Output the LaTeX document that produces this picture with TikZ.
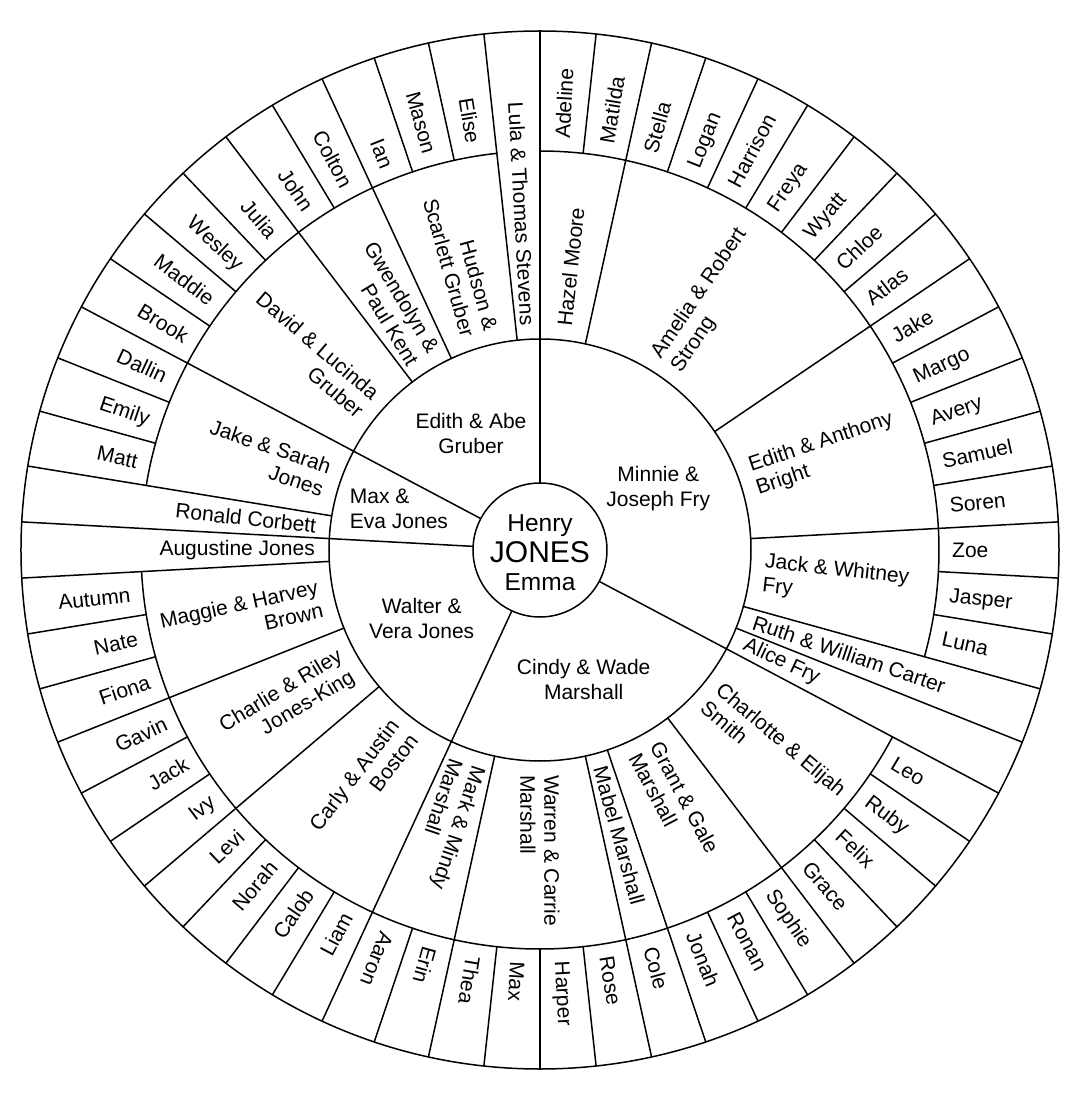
\documentclass[tikz,border=0pt]{standalone}
\usepackage{fontspec}
\setmainfont{Liberation Sans}
\newcommand\slotang{6.2068966}
\newcommand\RingThree[2]{%
  \pgfmathsetmacro\myb{90+(#1+0.5)*\slotang}%
  \pgfmathsetmacro\myr{\myb-180}%
  \ifnum#1<25\relax
    \node[nm, anchor=east, rotate=\myr] (c#1) at (\myb:412pt) {#2};%
  \else
    \node[nm, anchor=west, rotate=\myb] (c#1) at (\myb:412pt) {#2};%
  \fi}
\newcommand\RingTwo[4]{%
  \pgfmathsetmacro\myb{90+(#2+#3+1)/2*\slotang}%
  \pgfmathsetmacro\myr{\myb-180}%
  \ifnum#2<25\relax
    \node[two, anchor=east, align=right, rotate=\myr] (#1) at (\myb:225pt) {#4};%
  \else
    \node[two, anchor=west, align=left, rotate=\myb] (#1) at (\myb:225pt) {#4};%
  \fi}
\begin{document}
\begin{tikzpicture}[x=1pt,y=1pt,
  ln/.style={line width=1.5pt, line cap=round, line join=round},
  nm/.style={font=\fontsize{21}{24}\selectfont, inner sep=0pt, text height=15pt, text depth=0pt},
  two/.style={font=\fontsize{21}{24}\selectfont, inner sep=0pt},
  one/.style={font=\fontsize{21}{25}\selectfont, inner sep=0pt, align=center}]
\useasboundingbox (-540,-548) rectangle (540,550);
\fill[white] (-540,-548) rectangle (540,550);
\coordinate (P) at (0,0);
% rings
\draw[ln] (P) circle[radius=519pt];
\draw[ln] (P) circle[radius=211pt];
\draw[ln] ({90+1*\slotang}:399pt) arc[start angle={90+1*\slotang}, end angle={90+13*\slotang}, radius=399pt];
\draw[ln] ({90+15*\slotang}:399pt) arc[start angle={90+15*\slotang}, end angle={90+39*\slotang}, radius=399pt];
\draw[ln] ({90+41*\slotang}:399pt) arc[start angle={90+41*\slotang}, end angle={90+58*\slotang}, radius=399pt];
% radial lines
\foreach \k in {0,10,14,25,39}
  \draw[ln] ({90+\k*\slotang}:67pt) -- ({90+\k*\slotang}:519pt);
\foreach \k in {1,4,6,13,15,18,21,27,31,32,35,40,41,44,49,56}
  \draw[ln] ({90+\k*\slotang}:211pt) -- ({90+\k*\slotang}:519pt);
\foreach \k in {2,3,5,7,8,9,11,12,16,17,19,20,22,23,24,26,28,29,30,33,34,36,37,38,42,43,45,46,47,48,50,51,52,53,54,55,57}
  \draw[ln] ({90+\k*\slotang}:399pt) -- ({90+\k*\slotang}:519pt);
\draw[ln, fill=white] (P) circle[radius=67pt];
% centre
\node[font=\fontsize{24.5}{28}\selectfont, anchor=base, inner sep=0pt] (henry) at (0,19) {Henry};
\node[font=\fontsize{30}{34}\selectfont, anchor=base, inner sep=0pt] (jones) at (0,-12.7) {JONES};
\node[font=\fontsize{24.5}{28}\selectfont, anchor=base, inner sep=0pt] (emma) at (0,-40.7) {Emma};
% ring 1
\node[one] (edith) at (-69,116.7) {Edith \& Abe\\Gruber};
\node[one] (minnie) at (118.3,61.7) {Minnie \&\\Joseph Fry};
\node[one, align=left] (max) at (-141,41) {Max \&\\Eva Jones};
\node[one] (walter) at (-118.3,-68) {Walter \&\\Vera Jones};
\node[one] (cindy) at (43.7,-129) {Cindy \& Wade\\Marshall};
% ring 2
\RingTwo{lula}{0}{0}{Lula \& Thomas Stevens}
\RingTwo{hudson}{1}{3}{Hudson \&\\Scarlett Gruber}
\RingTwo{gwen}{4}{5}{Gwendolyn \&\\Paul Kent}
\RingTwo{david}{6}{9}{David \& Lucinda\\Gruber}
\RingTwo{jakes}{10}{12}{Jake \& Sarah\\Jones}
\RingTwo{ronald}{13}{13}{Ronald Corbett}
\RingTwo{augustine}{14}{14}{Augustine Jones}
\RingTwo{maggie}{15}{17}{Maggie \& Harvey\\Brown}
\RingTwo{charlie}{18}{20}{Charlie \& Riley\\Jones-King}
\RingTwo{carly}{21}{24}{Carly \& Austin\\Boston}
\RingTwo{mark}{25}{26}{Mark \& Mindy\\Marshall}
\RingTwo{warren}{27}{30}{Warren \& Carrie\\Marshall}
\RingTwo{mabel}{31}{31}{Mabel Marshall}
\RingTwo{grant}{32}{34}{Grant \& Gale\\Marshall}
\RingTwo{charlotte}{35}{38}{Charlotte \& Elijah\\Smith}
\RingTwo{alice}{39}{39}{Alice Fry}
\RingTwo{ruth}{40}{40}{Ruth \& William Carter}
\RingTwo{jackw}{41}{43}{Jack \& Whitney\\Fry}
\RingTwo{editha}{44}{48}{Edith \& Anthony\\Bright}
\RingTwo{amelia}{49}{55}{Amelia \& Robert\\Strong}
\RingTwo{hazel}{56}{57}{Hazel Moore}
% ring 3
\foreach \k/\n in {1/Elise,2/Mason,3/Ian,4/Colton,5/John,6/Julia,7/Wesley,8/Maddie,9/Brook,
  10/Dallin,11/Emily,12/Matt,15/Autumn,16/Nate,17/Fiona,18/Gavin,19/Jack,20/Ivy,
  21/Levi,22/Norah,23/Calob,24/Liam,25/Aaron,26/Erin,27/Thea,28/Max,29/Harper,30/Rose,
  31/Cole,32/Jonah,33/Ronan,34/Sophie,35/Grace,36/Felix,37/Ruby,38/Leo,
  41/Luna,42/Jasper,43/Zoe,44/Soren,45/Samuel,46/Avery,47/Margo,48/Jake,
  49/Atlas,50/Chloe,51/Wyatt,52/Freya,53/Harrison,54/Logan,55/Stella,56/Matilda,57/Adeline}
  {\RingThree{\k}{\n}}
\end{tikzpicture}
\end{document}
